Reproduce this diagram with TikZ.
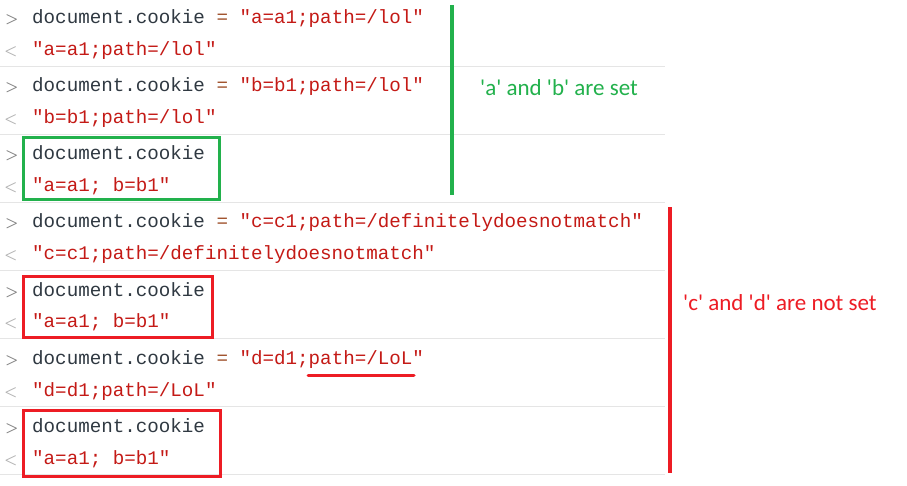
\documentclass[tikz,border=0pt]{standalone}
\usepackage{fontspec}
\setmonofont{Liberation Mono}
\setmainfont{Carlito}
\begin{document}
\begin{tikzpicture}[x=1pt,y=-1pt,
  code/.style={anchor=base west,inner sep=0pt,font=\ttfamily\fontsize{19.2}{20}\selectfont,text=txt},
  prm/.style={anchor=base west,inner sep=0pt,font=\sffamily\bfseries\fontsize{15}{16}\selectfont,text=gray},
  note/.style={anchor=base west,inner sep=0pt,font=\fontsize{23}{26}\selectfont},
  sep/.style={draw=black!10,line width=0.8pt},
  gbox/.style={draw=grn,line width=3pt},
  rbox/.style={draw=rd,line width=3pt}]
\definecolor{txt}{HTML}{303942}
\definecolor{str}{HTML}{C41A16}
\definecolor{eq}{HTML}{A0522D}
\definecolor{grn}{HTML}{22B14C}
\definecolor{rd}{HTML}{ED1C24}
\useasboundingbox[fill=white] (0,0) rectangle (907,485);
\foreach \y in {66,134,202,270,338,406,474} \draw[sep] (0,\y) -- (665,\y);
\def\inrow#1#2{\node[prm] at (5,#1) {\textgreater}; \node[code] at (32,#1) {#2};}
\def\outrow#1#2{\node[prm,text=black!30] at (4,#1) {\textless}; \node[code,text=str] at (32,#1) {#2};}
\inrow{23}{document.cookie \textcolor{eq}{=} \textcolor{str}{"a=a1;path=/lol"}}
\outrow{55}{"a=a1;path=/lol"}
\inrow{91}{document.cookie \textcolor{eq}{=} \textcolor{str}{"b=b1;path=/lol"}}
\outrow{123}{"b=b1;path=/lol"}
\inrow{159}{document.cookie}
\outrow{191}{"a=a1; b=b1"}
\inrow{227}{document.cookie \textcolor{eq}{=} \textcolor{str}{"c=c1;path=/definitelydoesnotmatch"}}
\outrow{259}{"c=c1;path=/definitelydoesnotmatch"}
\inrow{296}{document.cookie}
\outrow{327}{"a=a1; b=b1"}
\inrow{364}{document.cookie \textcolor{eq}{=} \textcolor{str}{"d=d1;path=/LoL"}}
\outrow{396}{"d=d1;path=/LoL"}
\inrow{432}{document.cookie}
\outrow{464}{"a=a1; b=b1"}
\draw[gbox] (23,137) rectangle (219,199);
\draw[grn,line width=3.5pt] (452,5) -- (452,195);
\node[note,text=grn] (gl) at (480,95) {\textquotesingle a\textquotesingle{} and \textquotesingle b\textquotesingle{} are set};
\draw[rbox] (23,276) rectangle (212,337);
\draw[rbox] (23,410) rectangle (220,476);
\draw[rd,line width=3pt,line cap=round] (308,375) -- (414,375);
\draw[rd,line width=3.5pt] (670,207) -- (670,473);
\node[note,text=rd] (rl) at (683,310) {\textquotesingle c\textquotesingle{} and \textquotesingle d\textquotesingle{} are not set};
\end{tikzpicture}
\end{document}
